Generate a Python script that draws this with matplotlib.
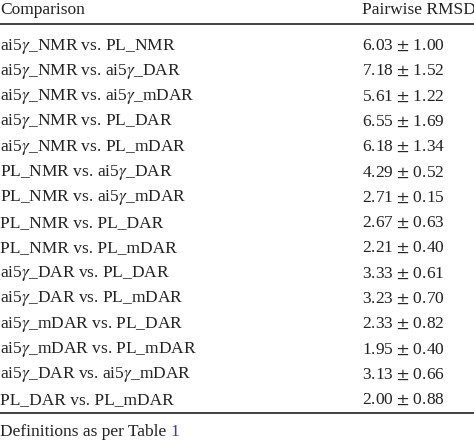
import matplotlib
matplotlib.use("Agg")
import matplotlib.pyplot as plt

plt.rcParams['font.family'] = ['Liberation Serif', 'DejaVu Serif']
plt.rcParams['mathtext.fontset'] = 'stix'

G = r'ai5$\gamma$'
comparisons = [
    G + '_NMR vs. PL_NMR',
    G + '_NMR vs. ' + G + '_DAR',
    G + '_NMR vs. ' + G + '_mDAR',
    G + '_NMR vs. PL_DAR',
    G + '_NMR vs. PL_mDAR',
    'PL_NMR vs. ' + G + '_DAR',
    'PL_NMR vs. ' + G + '_mDAR',
    'PL_NMR vs. PL_DAR',
    'PL_NMR vs. PL_mDAR',
    G + '_DAR vs. PL_DAR',
    G + '_DAR vs. PL_mDAR',
    G + '_mDAR vs. PL_DAR',
    G + '_mDAR vs. PL_mDAR',
    G + '_DAR vs. ' + G + '_mDAR',
    'PL_DAR vs. PL_mDAR',
]
means = [6.03, 7.18, 5.61, 6.55, 6.18, 4.29, 2.71, 2.67, 2.21, 3.33, 3.23, 2.33, 1.95, 3.13, 2.00]
sds = [1.00, 1.52, 1.22, 1.69, 1.34, 0.52, 0.15, 0.63, 0.40, 0.61, 0.70, 0.82, 0.40, 0.66, 0.88]

W, H = 474, 441
fig = plt.figure(figsize=(W / 100, H / 100), dpi=100)
ax = fig.add_axes([0, 0, 1, 1])
ax.set_xlim(0, W)
ax.set_ylim(H, 0)
ax.axis('off')

fs = 12.5
ax.text(0, 10, 'Comparison', fontsize=fs, va='center', color='#222')
ax.text(362, 10, 'Pairwise RMSD', fontsize=fs, va='center', color='#222')
ax.plot([0, W], [24, 24], color='#333', lw=1.3)

y0, dy = 46, (400 - 46) / 14
for i, (c, m, s) in enumerate(zip(comparisons, means, sds)):
    y = y0 + i * dy
    ax.text(0, y, c, fontsize=fs, va='center', color='#222')
    ax.text(362, y, f'{m:.2f} $\\pm$ {s:.2f}', fontsize=fs, va='center', color='#222')

ax.plot([0, W], [413, 413], color='#333', lw=1.3)
t = ax.text(0, 432, 'Definitions as per Table ', fontsize=fs, va='center', color='#222')
fig.canvas.draw()
bb = t.get_window_extent()
ax.text(bb.x1, 432, '1', fontsize=fs, va='center', color='#3a3aa0')

fig.savefig('out.png', dpi=100)
